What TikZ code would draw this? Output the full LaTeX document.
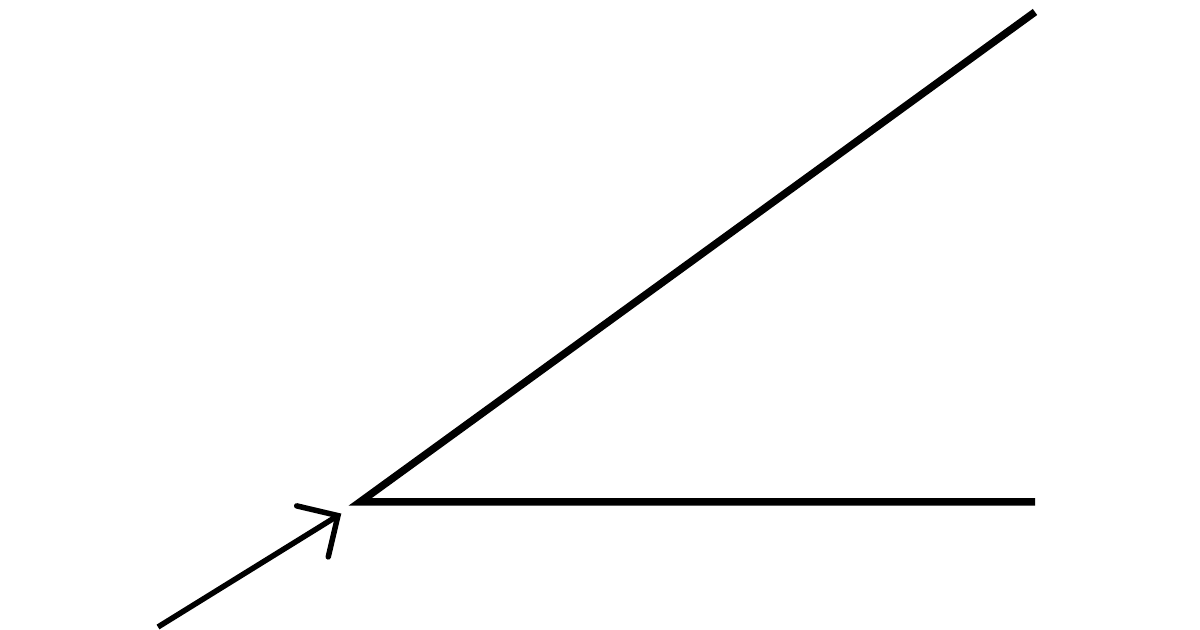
\documentclass[tikz,border=0pt]{standalone}
\usetikzlibrary{arrows.meta}
\begin{document}
\begin{tikzpicture}[
  ray/.style={line width=0.075cm, line join=miter},
  pointer/.style={line width=0.055cm, shorten >=2.2mm, -{Straight Barb[length=3mm,width=6mm,line cap=round]}}
]
\useasboundingbox (0,0) rectangle (12,6.3);
\coordinate (vertex) at (3.60,1.28);
\coordinate (upper) at (10.35,6.18);
\coordinate (lower) at (10.35,1.28);
\coordinate (start) at (1.58,0.03);

\draw [ray] (upper) -- (vertex) -- (lower);
\draw [pointer] (start) -- (vertex);
\end{tikzpicture}
\end{document}
